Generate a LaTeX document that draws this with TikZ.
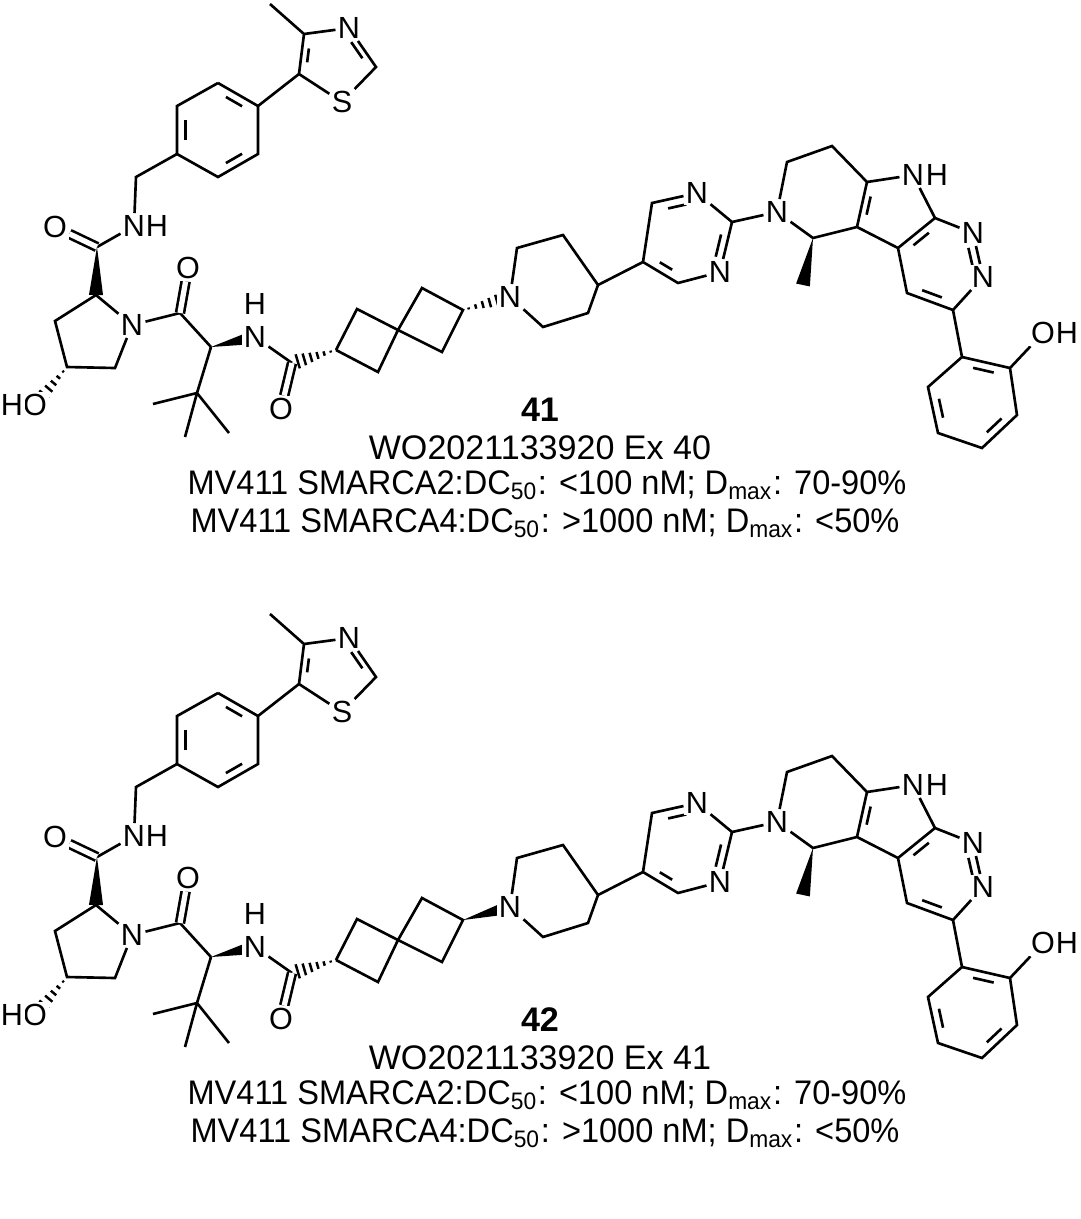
\documentclass[tikz,border=0pt]{standalone}
\usepackage{fontspec}
\setmainfont{Liberation Sans}
\usetikzlibrary{calc}
\pgfdeclarelayer{bg}\pgfsetlayers{bg,main}
\tikzset{
 atm/.style={fill=white,inner sep=0.5pt,font=\fontsize{8.7}{9}\selectfont},
 bd/.style={line width=0.75pt},
 dbl/.style={double,double distance=1.5pt,line width=0.75pt},
 txt/.style={font=\fontsize{9.7}{11}\selectfont,inner sep=0pt},
 txc/.style={font=\fontsize{9.7}{11}\selectfont\addfontfeatures{FakeStretch=0.955},inner sep=0pt}
}
\newcommand\inb[3]{\draw[bd,shorten <=2.6pt,shorten >=2.6pt] ($(#1)!0.2!(#3)$) -- ($(#2)!0.2!(#3)$);}
\newcommand\hashb[2]{\foreach \t in {0.12,0.27,...,0.9}{\path ($(#1)!\t!(#2)$) coordinate (hp);
 \draw[line width=0.7pt] ($(hp)!{\t*2.4pt}!90:(#2)$) -- ($(hp)!{\t*2.4pt}!-90:(#2)$);}}
\newcommand\wedgeb[2]{\fill (#1) -- ($(#2)!2pt!90:(#1)$) -- ($(#2)!2pt!-90:(#1)$) -- cycle;}
\newcommand\mol[1]{%
\coordinate (me) at (270,4); \coordinate (t4) at (304,34);
\node[atm] (tN) at (349,28) {N}; \coordinate (t2) at (376,67);
\node[atm] (tS) at (342,102) {S}; \coordinate (t5) at (299,74); \coordinate (tc) at (334,61);
\coordinate (b1) at (218,83); \coordinate (b2) at (258,106); \coordinate (b3) at (258,154);
\coordinate (b4) at (218,177); \coordinate (b5) at (177,154); \coordinate (b6) at (177,106); \coordinate (bc) at (218,130);
\coordinate (ch2) at (136,177);
\node[atm] (n1) at (134,226) {N}; \node[atm] (n1h) at (157,226) {H};
\coordinate (c1) at (97,247); \node[atm] (o1) at (55,227) {O};
\coordinate (p2) at (96,295); \node[atm] (pN) at (132,325) {N};
\coordinate (p5) at (115,368); \coordinate (p4) at (67,367); \coordinate (p3) at (55,321);
\node[atm] (ho) at (35,405) {O}; \node[atm] (hoh) at (12,405) {H};
\coordinate (c2) at (180,313); \node[atm] (o2) at (188,268) {O};
\coordinate (ca) at (211,347);
\node[atm] (n2) at (255,337) {N}; \node[atm] (n2h) at (255,304) {H};
\coordinate (q) at (197,393); \coordinate (q1) at (153,404); \coordinate (q2) at (185,437); \coordinate (q3) at (229,433);
\coordinate (c3) at (292,363); \node[atm] (o3) at (281,409) {O};
\coordinate (s1) at (336,350); \coordinate (s2) at (357,309); \coordinate (s0) at (398,330); \coordinate (s3) at (378,372);
\coordinate (s4) at (422,288); \coordinate (s5) at (463,310); \coordinate (s6) at (442,352);
\node[atm] (pipN) at (510,297) {N};
\coordinate (pp1) at (517,248); \coordinate (pp2) at (563,235); \coordinate (pp3) at (598,285);
\coordinate (pp4) at (588,313); \coordinate (pp5) at (543,327);
\coordinate (y5) at (643,262); \coordinate (y4) at (652,203); \node[atm] (yN1) at (697,193) {N};
\coordinate (y2) at (732,222); \node[atm] (yN3) at (720,272) {N}; \coordinate (y6) at (678,283); \coordinate (yc) at (688,240);
\node[atm] (fN) at (777,212) {N};
\coordinate (f1) at (787,162); \coordinate (f2) at (832,146); \coordinate (f3) at (867,182);
\node[atm] (nh) at (913,175) {N}; \node[atm] (nhh) at (937,175) {H};
\coordinate (f7a) at (935,218); \node[atm] (pN1) at (973,233) {N}; \node[atm] (pN2) at (983,277) {N};
\coordinate (f6) at (953,310); \coordinate (f5) at (907,293); \coordinate (f4a) at (898,248);
\coordinate (f3b) at (857,227); \coordinate (fm) at (813,238); \coordinate (me2) at (803,285);
\coordinate (prc) at (895,210); \coordinate (pzc) at (940,263);
\coordinate (h1) at (962,357); \coordinate (h2) at (1010,368); \coordinate (h3) at (1017,415);
\coordinate (h4) at (982,448); \coordinate (h5) at (938,433); \coordinate (h6) at (928,387); \coordinate (hc) at (973,401);
\node[atm] (oh) at (1043,333) {O}; \node[atm] (ohh) at (1067,333) {H};
\begin{pgfonlayer}{bg}
\draw[bd] (me)--(t4)--(tN)--(t2)--(tS)--(t5)--(t4);
\inb{t4}{t5}{tc} \inb{tN}{t2}{tc}
\draw[bd] (t5)--(b2) (b1)--(b2)--(b3)--(b4)--(b5)--(b6)--(b1);
\inb{b1}{b2}{bc} \inb{b3}{b4}{bc} \inb{b5}{b6}{bc}
\draw[bd] (b5)--(ch2)--(n1)--(c1);
\draw[dbl] (c1)--(o1);
\wedgeb{c1}{p2}
\draw[bd] (p2)--(pN)--(p5)--(p4)--(p3)--(p2);
\hashb{p4}{ho}
\draw[bd] (pN)--(c2)--(ca);
\draw[dbl] (c2)--(o2);
\wedgeb{ca}{n2}
\draw[bd] (ca)--(q) (q)--(q1) (q)--(q2) (q)--(q3) (n2)--(c3);
\draw[dbl] (c3)--(o3);
\hashb{s1}{c3}
\draw[bd] (s1)--(s2)--(s0)--(s3)--(s1) (s0)--(s4)--(s5)--(s6)--(s0);
\ifnum#1=0 \hashb{s5}{pipN}\else\wedgeb{s5}{pipN}\fi
\draw[bd] (pipN)--(pp1)--(pp2)--(pp3)--(pp4)--(pp5)--(pipN) (pp3)--(y5);
\draw[bd] (y5)--(y4)--(yN1)--(y2)--(yN3)--(y6)--(y5) (y2)--(fN);
\inb{y4}{yN1}{yc} \inb{y2}{yN3}{yc} \inb{y5}{y6}{yc}
\draw[bd] (fN)--(f1)--(f2)--(f3)--(nh)--(f7a)--(pN1)--(pN2)--(f6)--(f5)--(f4a)--(f7a) (f4a)--(f3b)--(f3) (f3b)--(fm)--(fN);
\inb{f3}{f3b}{prc} \inb{f7a}{f4a}{pzc} \inb{pN1}{pN2}{pzc} \inb{f5}{f6}{pzc}
\wedgeb{fm}{me2}
\draw[bd] (f6)--(h1)--(h2)--(h3)--(h4)--(h5)--(h6)--(h1) (h2)--(oh);
\inb{h1}{h2}{hc} \inb{h3}{h4}{hc} \inb{h5}{h6}{hc}
\end{pgfonlayer}}
\begin{document}
\begin{tikzpicture}[x=0.1mm,y=-0.1mm]
\useasboundingbox (0,0) rectangle (1080,1219);
\mol{0}
\node[txt] (l41) at (540,410) {\textbf{41}};
\node[txt] (r41) at (540,448) {WO2021133920 Ex 40};
\node[txc] (a41) at (547,485) {MV411 SMARCA2:DC\textsubscript{50}: <100 nM; D\textsubscript{max}: 70-90\%};
\node[txc] (b41) at (545,523) {MV411 SMARCA4:DC\textsubscript{50}: >1000 nM; D\textsubscript{max}: <50\%};
\begin{scope}[shift={(0,610)}]
\mol{1}
\node[txt] (l42) at (540,410) {\textbf{42}};
\node[txt] (r42) at (540,448) {WO2021133920 Ex 41};
\node[txc] (a42) at (547,485) {MV411 SMARCA2:DC\textsubscript{50}: <100 nM; D\textsubscript{max}: 70-90\%};
\node[txc] (b42) at (545,523) {MV411 SMARCA4:DC\textsubscript{50}: >1000 nM; D\textsubscript{max}: <50\%};
\end{scope}
\end{tikzpicture}
\end{document}
